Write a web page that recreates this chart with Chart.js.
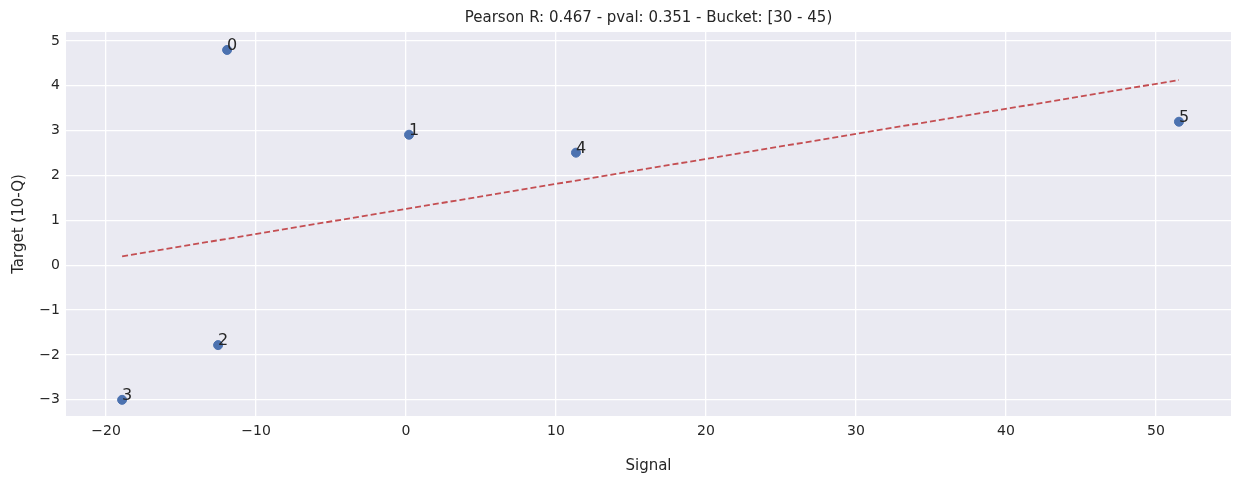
<!DOCTYPE html>
<html>
<head>
<meta charset="utf-8">
<script src="https://cdn.jsdelivr.net/npm/chart.js@4/dist/chart.umd.min.js"></script>
<style>
  body { margin: 0; background: #fff; }
  #wrap { width: 1241px; height: 479px; }
</style>
</head>
<body>
<div id="wrap"><canvas id="chart"></canvas></div>
<script>
// Scatter points
const signal = [-11.93, 0.2, -12.53, -18.93, 11.33, 51.53];
const target = [4.8, 2.91, -1.78, -3.0, 2.51, 3.2];
const pointLabels = ['0', '1', '2', '3', '4', '5'];

// Fitted line end points
const fitX = [-18.93, 51.53];
const fitY = [0.2, 4.13];

const xTicks = [-20, -10, 0, 10, 20, 30, 40, 50];
const yTicks = [-3, -2, -1, 0, 1, 2, 3, 4, 5];

const titleText = 'Pearson R: 0.467 - pval: 0.351 - Bucket: [30 - 45)';
const font = 'DejaVu Sans';

function fmt(v) {
    return v < 0 ? '\u2212' + Math.abs(v) : String(v);
}

const extras = {
    id: 'extras',
    beforeDraw(chart) {
        const { ctx, chartArea: a } = chart;
        ctx.save();
        ctx.fillStyle = '#EAEAF2';
        ctx.fillRect(a.left, a.top, a.right - a.left, a.bottom - a.top);
        ctx.restore();
    },
    afterDraw(chart) {
        const { ctx, chartArea: a, scales } = chart;
        ctx.save();
        ctx.fillStyle = '#262626';
        ctx.font = '15px "' + font + '"';
        ctx.textAlign = 'center';
        ctx.textBaseline = 'bottom';
        ctx.fillText(titleText, (a.left + a.right) / 2, a.top - 6);
        ctx.font = '16px "' + font + '"';
        ctx.textAlign = 'left';
        ctx.textBaseline = 'alphabetic';
        signal.forEach((x, i) => {
            ctx.fillText(pointLabels[i], scales.x.getPixelForValue(x), scales.y.getPixelForValue(target[i]));
        });
        ctx.restore();
    }
};

new Chart(document.getElementById('chart'), {
    type: 'scatter',
    data: {
        datasets: [{
            data: signal.map((x, i) => ({ x: x, y: target[i] })),
            backgroundColor: '#4C72B0',
            borderColor: '#4C72B0',
            pointRadius: 4.5,
            pointHoverRadius: 4.5
        }, {
            type: 'line',
            data: fitX.map((x, i) => ({ x: x, y: fitY[i] })),
            borderColor: '#C44E52',
            borderDash: [6, 3],
            borderWidth: 1.8,
            pointRadius: 0,
            fill: false
        }]
    },
    options: {
        responsive: true,
        maintainAspectRatio: false,
        animation: false,
        layout: { padding: { top: 32, right: 10, left: 6, bottom: 0 } },
        plugins: { legend: { display: false }, tooltip: { enabled: false } },
        scales: {
            x: {
                type: 'linear',
                min: -22.67,
                max: 55,
                afterBuildTicks: s => { s.ticks = xTicks.map(v => ({ value: v })); },
                afterFit: s => { s.height = 63; },
                grid: { color: '#FFFFFF', lineWidth: 1.3, drawTicks: false },
                border: { display: false },
                ticks: { color: '#262626', font: { family: font, size: 14 }, padding: 7, callback: v => fmt(v) },
                title: { display: true, text: 'Signal', color: '#262626', font: { family: font, size: 15 }, padding: { top: 2 } }
            },
            y: {
                min: -3.36,
                max: 5.2,
                afterBuildTicks: s => { s.ticks = yTicks.map(v => ({ value: v })); },
                afterFit: s => { s.width = 60; },
                grid: { color: '#FFFFFF', lineWidth: 1.3, drawTicks: false },
                border: { display: false },
                ticks: { color: '#262626', font: { family: font, size: 14 }, padding: 6, callback: v => fmt(v) },
                title: { display: true, text: 'Target (10-Q)', color: '#262626', font: { family: font, size: 15 }, padding: { bottom: 2 } }
            }
        }
    },
    plugins: [extras]
});
</script>
</body>
</html>
